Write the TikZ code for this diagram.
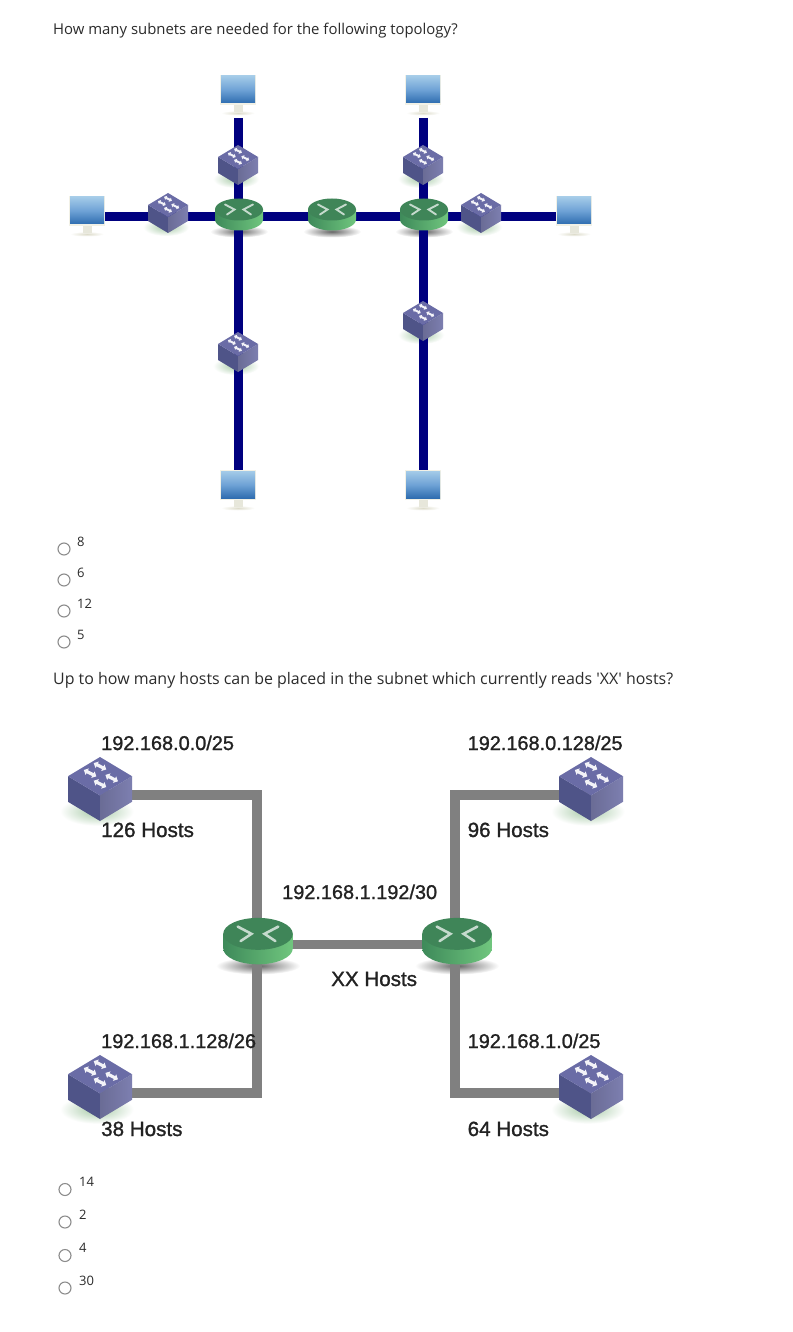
\documentclass[tikz,border=0pt]{standalone}
\usepackage{fontspec}
\setmainfont{Open Sans}
\newfontfamily\qfont{Open Sans}
\newfontfamily\labelfont[FakeBold=1.2]{Liberation Sans}
\definecolor{swtop}{HTML}{6A6CA6}
\definecolor{swleft}{HTML}{4F5488}
\definecolor{swright}{HTML}{7D7FB0}
\definecolor{rttop}{HTML}{3F8558}
\definecolor{rtdark}{HTML}{3E8A5A}
\definecolor{rtlight}{HTML}{70C67E}
\definecolor{bluelink}{HTML}{00007F}
\definecolor{greylink}{HTML}{808080}
\definecolor{txt}{HTML}{2B2B2B}
\definecolor{lbl}{HTML}{222222}
\definecolor{scrtop}{HTML}{A4CBE8}
\definecolor{scrmid}{HTML}{6FA3D6}
\definecolor{scrbot}{HTML}{2F6DB0}
\definecolor{bezel}{HTML}{F2F1E6}
\definecolor{stand}{HTML}{DDDCCB}
\def\rtw{1.9pt}
\tikzset{
  x=1pt,y=-1pt,
  blueline/.style={draw=bluelink,line width=9pt},
  greyline/.style={draw=greylink,line width=10pt,line join=miter},
  anchorpt/.style={inner sep=0pt,minimum size=0pt},
  question/.style={anchor=base west,inner sep=0pt,text=txt,font=\qfont\fontsize{15.95}{18}\selectfont},
  optlabel/.style={anchor=base west,inner sep=0pt,text=txt,font=\fontsize{13}{15}\selectfont},
  netlabel/.style={anchor=base west,inner sep=0pt,text=lbl,font=\labelfont\fontsize{19.9}{22}\selectfont},
  hostlabel/.style={netlabel,font=\labelfont\fontsize{20.6}{22}\selectfont},
  radio/.style={circle,draw=black!45,line width=1.1pt,fill=white,minimum size=12pt,inner sep=0pt},
  switchhalo/.pic={
    \shade[inner color=green!40!black!35!white,outer color=white] (-2,14) ellipse (23 and 9);
  },
  switchicon/.pic={
    \fill[swleft] (-20,-8) -- (0,4) -- (0,20) -- (-20,8) -- cycle;
    \shade[left color=swright!85!black,right color=swright] (0,4) -- (20,-8) -- (20,8) -- (0,20) -- cycle;
    \fill[swtop] (0,-20) -- (20,-8) -- (0,4) -- (-20,-8) -- cycle;
    \foreach \cx/\cy in {0/-14.2,-6.2/-9.9,7.3/-6.8,0/-3.2}{
      \fill[white!92!swtop,shift={(\cx,\cy)},rotate=-27]
        (-4.4,0) -- (-2,2.3) -- (-2,1) -- (2,1) -- (2,2.3) -- (4.4,0) -- (2,-2.3) -- (2,-1) -- (-2,-1) -- (-2,-2.3) -- cycle;
    }
  },
  routershadow/.pic={
    \shade[inner color=black!60,outer color=white] (0,15) ellipse (29 and 6);
  },
  routericon/.pic={
    \shade[left color=rtdark,right color=rtlight] (-24,-7) -- (-24,3) arc[start angle=180,end angle=0,x radius=24,y radius=11] -- (24,-7) -- cycle;
    \fill[rttop] (0,-7) ellipse (24 and 11);
    \draw[white!70!rttop,line width=\rtw,line cap=round]
      (-14,-12) -- (-4.5,-7) -- (-12,-2) (14,-12) -- (4.5,-7) -- (12,-2);
  },
  pcicon/.pic={
    \shade[inner color=stand,outer color=white] (0,23) ellipse (17 and 2.5);
    \fill[stand!70] (-4.5,13) rectangle (4.5,22);
    \fill[bezel] (-18,-15) rectangle (18,15);
    \shade[top color=scrtop,bottom color=scrbot,middle color=scrmid] (-17,-14) rectangle (17,13);
  }
}
\begin{document}
\begin{tikzpicture}
\useasboundingbox[fill=white] (0,0) rectangle (792,1332);
% question 1
\node[question,font=\qfont\fontsize{14.9}{18}\selectfont] (q1) at (53,35) {How many subnets are needed for the following topology?};
% upper topology anchors
\node[anchorpt] (pcL) at (87,211) {};
\node[anchorpt] (swL) at (168,213) {};
\node[anchorpt] (rtA) at (239,216.5) {};
\node[anchorpt] (rtB) at (332,216.5) {};
\node[anchorpt] (rtC) at (424,216.5) {};
\node[anchorpt] (swR) at (481,213) {};
\node[anchorpt] (pcR) at (574,211) {};
\node[anchorpt] (pcAt) at (238,90) {};
\node[anchorpt] (swAt) at (238,165) {};
\node[anchorpt] (swAb) at (238,352) {};
\node[anchorpt] (pcAb) at (238,485) {};
\node[anchorpt] (pcCt) at (423,90) {};
\node[anchorpt] (swCt) at (423,165) {};
\node[anchorpt] (swCb) at (423,321) {};
\node[anchorpt] (pcCb) at (423,485) {};
\foreach \n in {swL,swR,swAt,swAb,swCt,swCb} \pic at (\n) {switchhalo};
\foreach \n in {rtA,rtB,rtC} \pic at (\n) {routershadow};
\draw[blueline] (pcL |- rtA) -- (rtA) -- (rtB) -- (rtC) -- (pcR |- rtC);
\draw[blueline] ([yshift=-28pt]pcAt.center) -- (swAt) -- (swAb) -- (pcAb);
\draw[blueline] ([yshift=-28pt]pcCt.center) -- (swCt) -- (swCb) -- (pcCb);
\foreach \n in {pcL,pcR,pcAt,pcAb,pcCt,pcCb} \pic at (\n) {pcicon};
\foreach \n in {swL,swR,swAt,swAb,swCt,swCb} \pic at (\n) {switchicon};
\foreach \n in {rtA,rtB,rtC} \pic at (\n) {routericon};
% options 1
\node[radio] (o1a) at (64,549) {};
\node[radio] (o1b) at (64,580) {};
\node[radio] (o1c) at (64,611) {};
\node[radio] (o1d) at (64,642) {};
\node[optlabel] (l1a) at (77,546) {8};
\node[optlabel] (l1b) at (77,577) {6};
\node[optlabel] (l1c) at (77,608) {12};
\node[optlabel] (l1d) at (77,639) {5};
% question 2
\node[question] (q2) at (53,684) {Up to how many hosts can be placed in the subnet which currently reads 'XX' hosts?};
% lower topology anchors
\node[anchorpt] (s1) at (100,789) {};
\node[anchorpt] (s2) at (591,789) {};
\node[anchorpt] (s3) at (100,1087) {};
\node[anchorpt] (s4) at (591,1087) {};
\node[anchorpt] (r1) at (258,944) {};
\node[anchorpt] (r2) at (457,944) {};
\coordinate (c1) at (256.5,795);
\coordinate (c3) at (256.5,1092.5);
\coordinate (c2) at (455,795);
\coordinate (c4) at (455,1092.5);
\foreach \n in {s1,s2,s3,s4} \pic[scale=1.6] at (\n) {switchhalo};
\foreach \n in {r1,r2} \pic[scale=1.45] at (\n) {routershadow};
\draw[greyline] (s1 |- c1) -- (c1) -- (c3) -- (s3 |- c3);
\draw[greyline] (s2 |- c2) -- (c2) -- (c4) -- (s4 |- c4);
\draw[greyline,line width=9pt] (r1) -- (r2);
\foreach \n in {s1,s2,s3,s4} \pic[scale=1.6] at (\n) {switchicon};
\def\rtw{2.6pt}
\foreach \n in {r1,r2} \pic[scale=1.45] at (\n) {routericon};
\node[netlabel] (t1) at (101,750) {192.168.0.0/25};
\node[netlabel] (t2) at (467.5,750) {192.168.0.128/25};
\node[hostlabel] (t3) at (101,837) {126 Hosts};
\node[hostlabel] (t4) at (467.5,837) {96 Hosts};
\node[netlabel] (t5) at (282,899) {192.168.1.192/30};
\node[hostlabel] (t6) at (331,986) {XX Hosts};
\node[netlabel] (t7) at (101,1048) {192.168.1.128/26};
\node[netlabel] (t8) at (467.5,1048) {192.168.1.0/25};
\node[hostlabel] (t9) at (101,1136) {38 Hosts};
\node[hostlabel] (t10) at (467.5,1136) {64 Hosts};
% options 2
\node[radio] (o2a) at (65,1189.5) {};
\node[radio] (o2b) at (65,1222) {};
\node[radio] (o2c) at (65,1255.5) {};
\node[radio] (o2d) at (65,1288) {};
\node[optlabel] (l2a) at (79,1186.5) {14};
\node[optlabel] (l2b) at (79,1219) {2};
\node[optlabel] (l2c) at (79,1252) {4};
\node[optlabel] (l2d) at (79,1285) {30};
\end{tikzpicture}
\end{document}
